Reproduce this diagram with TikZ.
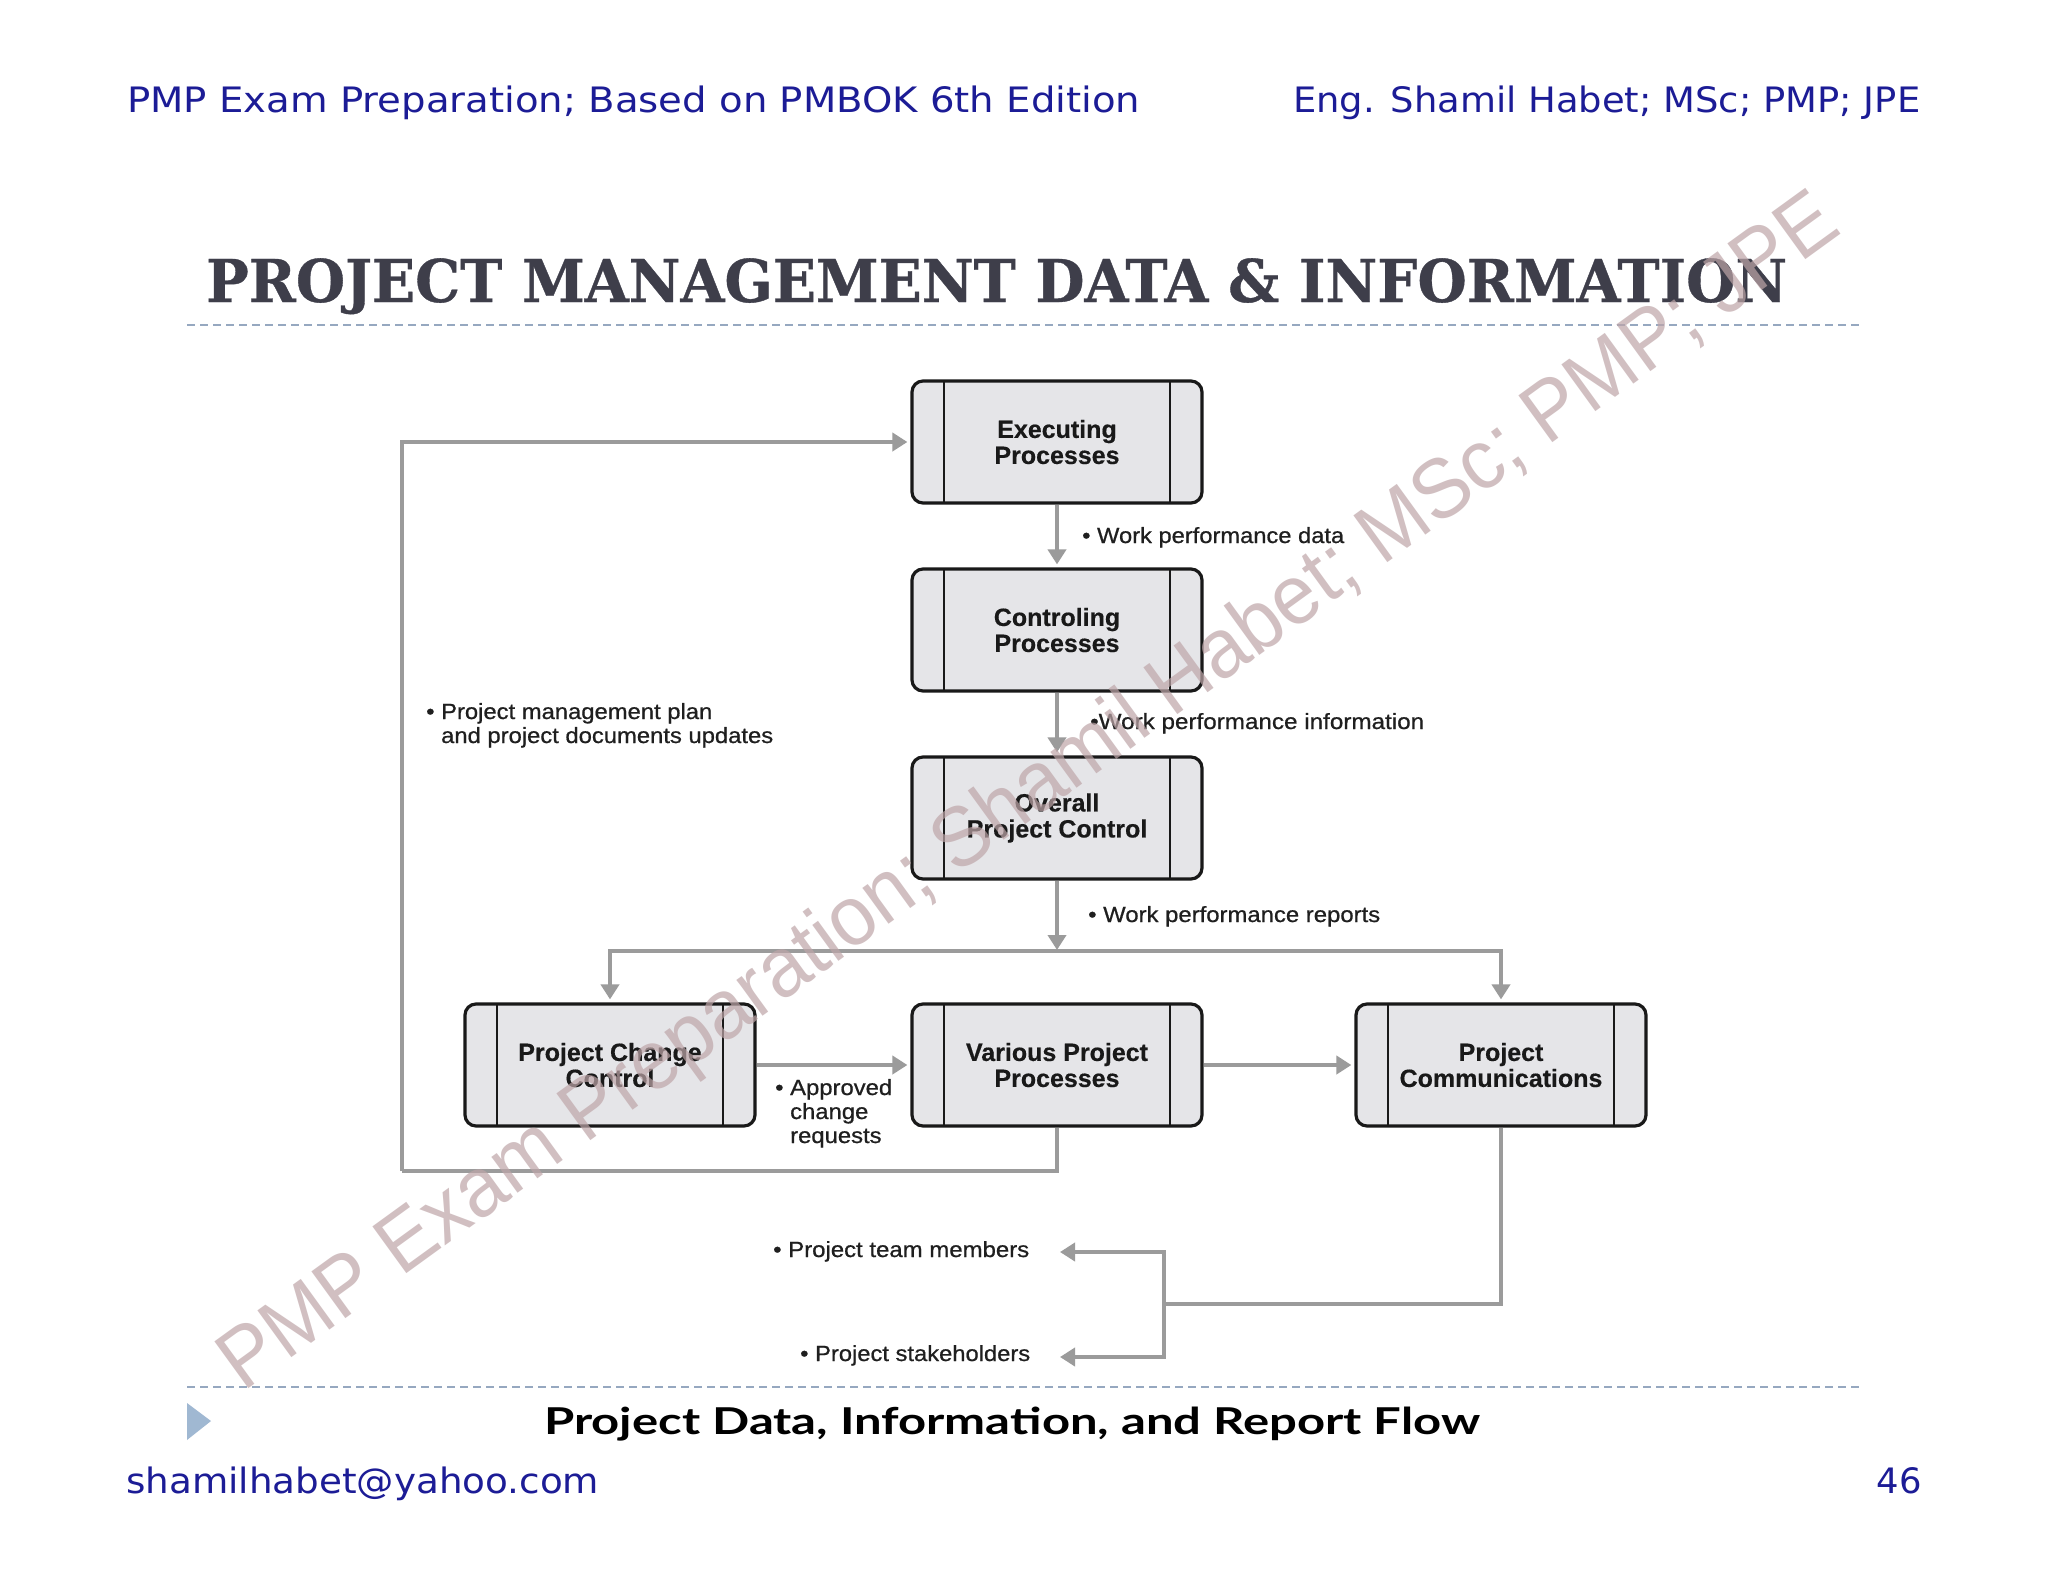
\documentclass[tikz,border=0pt]{standalone}
\usepackage{fontspec}
\usepackage{graphicx}
\setmainfont{Liberation Sans}
\newfontfamily\hdrfont{DejaVu Sans}
\newfontfamily\ttlfont[FakeBold=0.6]{DejaVu Serif Bold}
\newfontfamily\capfont{Lato}
\newfontfamily\lblfont[FakeBold=0.7]{Liberation Sans}
\newfontfamily\boxfont[FakeBold=0.4]{Liberation Sans Bold}
\usetikzlibrary{arrows.meta}
\definecolor{hdrblue}{RGB}{28,28,150}
\definecolor{ttlgray}{RGB}{62,62,74}
\definecolor{conngray}{RGB}{155,155,155}
\definecolor{boxfill}{RGB}{229,229,232}
\definecolor{dashblue}{RGB}{150,168,192}
\definecolor{tribl}{RGB}{160,184,210}
\definecolor{wmcol}{RGB}{190,165,168}
\newcommand\fitw[2]{\resizebox{#1pt}{\height}{#2}}
\tikzset{
  procbox/.style={draw=black!90, line width=3.2pt, fill=boxfill, rounded corners=11pt,
    minimum width=290pt, minimum height=122pt, inner sep=0pt, align=center,
    font=\boxfont\fontsize{25}{26}\selectfont, text=black!90,
    path picture={\draw[line width=2.8pt, black!90]
      ([xshift=32pt]path picture bounding box.north west) -- ([xshift=32pt]path picture bounding box.south west)
      ([xshift=-32pt]path picture bounding box.north east) -- ([xshift=-32pt]path picture bounding box.south east);}},
  conn/.style={draw=conngray, line width=4.5pt, -{Triangle[length=15pt,width=18pt]}, shorten >=3pt},
  plainline/.style={draw=conngray, line width=4.5pt},
  lbl/.style={anchor=base west, inner sep=0pt, font=\lblfont\fontsize{22}{24}\selectfont, text=black!88},
  sep/.style={draw=dashblue, line width=2pt, dash pattern=on 8pt off 5pt},
}
\begin{document}
\begin{tikzpicture}[x=1pt, y=-1pt]
\useasboundingbox (0,0) rectangle (2048,1582);
\fill[white] (0,0) rectangle (2048,1582);

% header and footer
\node[anchor=base west, inner sep=0pt, text=hdrblue] (hl) at (127,112)
  {\fitw{1013}{\hdrfont\fontsize{35}{40}\selectfont PMP Exam Preparation; Based on PMBOK 6th Edition}};
\node[anchor=base west, inner sep=0pt, text=hdrblue] (hr) at (1293,112)
  {\fitw{627}{\hdrfont\fontsize{35}{40}\selectfont Eng. Shamil Habet; MSc; PMP; JPE}};
\node[anchor=base west, inner sep=0pt, text=ttlgray] (ttl) at (206,302)
  {\fitw{1581}{\ttlfont\fontsize{59}{64}\selectfont PROJECT MANAGEMENT DATA \& INFORMATION}};
\draw[sep] (187,325) -- (1862,325);
\draw[sep] (187,1387) -- (1862,1387);
\fill[tribl] (187,1403) -- (211,1421) -- (187,1440) -- cycle;
\node[anchor=base west, inner sep=0pt, text=black] (cap) at (544,1434)
  {\fitw{936}{\capfont\bfseries\fontsize{37}{40}\selectfont Project Data, Information, and Report Flow}};
\node[anchor=base west, inner sep=0pt, text=hdrblue] (mail) at (126,1493)
  {\fitw{473}{\hdrfont\fontsize{35}{40}\selectfont shamilhabet@yahoo.com}};
\node[anchor=base east, inner sep=0pt, text=hdrblue] (pg) at (1922,1493)
  {\fitw{45}{\hdrfont\fontsize{35}{40}\selectfont 46}};

% boxes
\node[procbox] (exe) at (1057,442) {Executing\\Processes};
\node[procbox] (ctl) at (1057,630) {Controling\\Processes};
\node[procbox] (ovr) at (1057,818) {Overall\\Project Control};
\node[procbox] (pcc) at (610,1065) {Project Change\\Control};
\node[procbox] (var) at (1057,1065) {Various Project\\Processes};
\node[procbox] (com) at (1501,1065) {Project\\Communications};

% connectors
\coordinate (split) at (1057,951);
\coordinate (lpB) at (402,1171);
\coordinate (cm1) at (1164,1304);
\coordinate (tmA) at (1060,1252);
\coordinate (shA) at (1060,1357);
\draw[conn] (exe.south) -- (ctl.north);
\draw[conn] (ctl.south) -- (ovr.north);
\draw[conn, shorten >=1pt] (ovr.south) -- (split);
\draw[conn] (split) -| (pcc.north);
\draw[conn] (split) -| (com.north);
\draw[conn] (pcc.east) -- (var.west);
\draw[conn] (var.east) -- (com.west);
\draw[plainline] (var.south) |- (lpB);
\draw[conn] (lpB) |- (exe.west);
\draw[plainline] (com.south) |- (cm1);
\draw[conn, shorten >=0pt] (cm1) |- (tmA);
\draw[conn, shorten >=0pt] (cm1) |- (shA);

% labels
\node[lbl] (wpd) at (1082,543) {\fitw{262}{• Work performance data}};
\node[lbl] (wpi) at (1090,729) {\fitw{334}{•Work performance information}};
\node[lbl] (wpr) at (1088,922) {\fitw{292}{• Work performance reports}};
\node[lbl] (pmu) at (426,719) {\fitw{347}{• \begin{tabular}[t]{@{}l@{}}Project management plan\\and project documents updates\end{tabular}}};
\node[lbl] (acr) at (775,1095) {\fitw{117}{• \begin{tabular}[t]{@{}l@{}}Approved\\change\\requests\end{tabular}}};
\node[lbl] (ptm) at (773,1257) {\fitw{256}{• Project team members}};
\node[lbl] (psh) at (800,1361) {\fitw{230}{• Project stakeholders}};

% watermark
\node[anchor=base west, inner sep=0pt, rotate=35.96, text=wmcol, opacity=0.7] (wm) at (243,1393)
  {\fitw{1977}{\fontsize{84}{90}\selectfont PMP Exam Preparation; Shamil Habet; MSc; PMP; JPE}};
\end{tikzpicture}
\end{document}
